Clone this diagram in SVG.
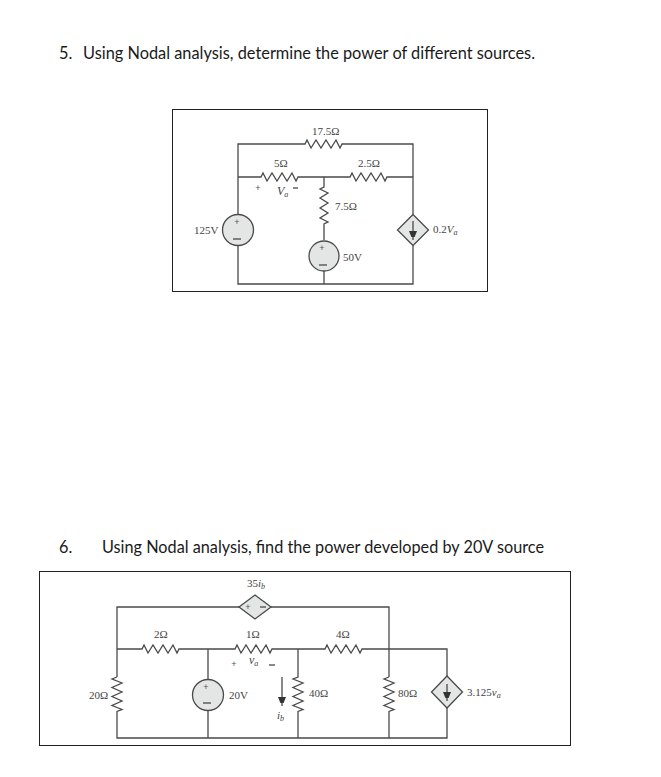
<svg xmlns="http://www.w3.org/2000/svg" width="661" height="777" viewBox="0 0 661 777">
<style>
.h{font-family:Lato,"Liberation Sans",sans-serif;font-size:16.3px;fill:#1a1a1a}
.l{font-family:"Liberation Serif",serif;font-size:11px;fill:#444}
.i{font-style:italic}
.sub{font-size:8px;font-style:italic}
.w{fill:none;stroke:#4a4a4a;stroke-width:1.3}
.b{fill:none;stroke:#222;stroke-width:1}
.s{fill:#e4e6e6;stroke:#4a4a4a;stroke-width:1.3}
.p{font-family:"Liberation Sans",sans-serif;font-size:9px;fill:#555;text-anchor:middle}
</style>
<defs>
<marker id="arr" markerWidth="6" markerHeight="10" refX="9" refY="5" orient="auto" markerUnits="userSpaceOnUse"><path d="M0 1L10 5L0 9Z" fill="#333"/></marker>
</defs>
<rect width="661" height="777" fill="#fff"/>
<text class="h" x="59" y="59">5.</text>
<text class="h" x="83" y="59" textLength="452" lengthAdjust="spacingAndGlyphs">Using Nodal analysis, determine the power of different sources.</text>
<text class="h" x="59" y="553">6.</text>
<text class="h" x="102" y="553" textLength="442" lengthAdjust="spacingAndGlyphs">Using Nodal analysis, find the power developed by 20V source</text>
<rect class="b" x="172.500" y="109.500" width="315" height="182"/>
<rect class="b" x="39.500" y="571.500" width="531" height="174"/>
<g id="connectors">
<path class="w" d="M238 214V144H305l2-4 4 8 5-8 5 8 5-8 5 8 5-8 4 8 2-4H413V214M238 246V284H413V246M238 177H261l2-4 4 8 5-8 5 8 5-8 5 8 5-8 4 8 2-4H350l2-4 4 8 5-8 5 8 5-8 5 8 5-8 4 8 2-4H413"/>
<path class="w" d="M324 177V187l-4 2 8 4-8 5 8 5-8 5 8 5-8 5 8 4-4 2V240M324 271V284"/>
<path class="w" d="M117 677V607H239M271 607H389V677M117 649H142l2-4 4 8 5-8 5 8 5-8 5 8 5-8 4 8 2-4H235l2-4 4 8 5-8 5 8 5-8 5 8 5-8 4 8 2-4H325l2-4 4 8 5-8 5 8 5-8 5 8 5-8 4 8 2-4H447V676"/>
<path class="w" d="M117 677l-5 2 10 4-10 4.500 10 4.500-10 4.500 10 4.500-10 4.500 10 4-5 2V738H447V708M208 649V679M208 710V738M298 649V677l-5 2 10 4-10 4.500 10 4.500-10 4.500 10 4.500-10 4.500 10 4-5 2V738M389 677l-5 2 10 4-10 4.500 10 4.500-10 4.500 10 4.500-10 4.500 10 4-5 2V738"/>
<path class="w" d="M282 677V706" marker-end="url(#arr)"/>
</g>
<g id="src125"><circle class="s" cx="238" cy="230" r="15.500"/><text class="p" x="237" y="225">+</text><path class="w" d="M233 239H241"/><text class="l" x="194" y="234">125V</text></g>
<g id="src50"><circle class="s" cx="324" cy="256" r="15"/><text class="p" x="322" y="251">+</text><path class="w" d="M319 265H327"/><text class="l" x="343" y="261">50V</text></g>
<g id="dep02"><path class="s" d="M413 214.500L428.500 230L413 245.500L397.500 230Z"/><path class="w" d="M413 221V240" marker-end="url(#arr)"/><text class="l" x="433" y="233">0.2<tspan class="i">V</tspan><tspan class="sub" dy="2">a</tspan></text></g>
<g id="r175"><text class="l" x="312" y="135">17.5Ω</text></g>
<g id="r5"><text class="l" x="274" y="167">5Ω</text></g>
<g id="r25"><text class="l" x="358" y="167">2.5Ω</text></g>
<g id="r75"><text class="l" x="335" y="210">7.5Ω</text></g>
<g id="va"><text class="p" x="258" y="191">+</text><text class="l i" x="277" y="195" style="font-size:12px">V<tspan class="sub" dy="2">a</tspan></text><path class="w" d="M293 188H298"/></g>
<g id="dep35"><path class="s" d="M239 607L255 595L271 607L255 619Z"/><text class="p" x="248" y="610">+</text><path class="w" d="M260 607H266"/><text class="l" x="247" y="587">35<tspan class="i">i</tspan><tspan class="sub" dy="2">b</tspan></text></g>
<g id="r20"><text class="l" x="89" y="699">20Ω</text></g>
<g id="r2"><text class="l" x="154" y="638">2Ω</text></g>
<g id="r1"><text class="l" x="246" y="638">1Ω</text></g>
<g id="r4"><text class="l" x="336" y="638">4Ω</text></g>
<g id="src20"><circle class="s" cx="208" cy="695" r="15.500"/><text class="p" x="206" y="690">+</text><path class="w" d="M203 703H211"/><text class="l" x="229" y="699">20V</text></g>
<g id="vA"><text class="p" x="234" y="667">+</text><text class="l i" x="249" y="664" style="font-size:12px">v<tspan class="sub" dy="2">a</tspan></text><path class="w" d="M269 665H275"/></g>
<g id="ib"><text class="l i" x="277" y="719">i<tspan class="sub" dy="2">b</tspan></text></g>
<g id="r40"><text class="l" x="309" y="697">40Ω</text></g>
<g id="r80"><text class="l" x="398" y="697">80Ω</text></g>
<g id="dep3"><path class="s" d="M447 676L462.500 692L447 708L431.500 692Z"/><path class="w" d="M447 684V701" marker-end="url(#arr)"/><text class="l" x="467" y="696">3.125<tspan class="i">v</tspan><tspan class="sub" dy="2">a</tspan></text></g>
</svg>
